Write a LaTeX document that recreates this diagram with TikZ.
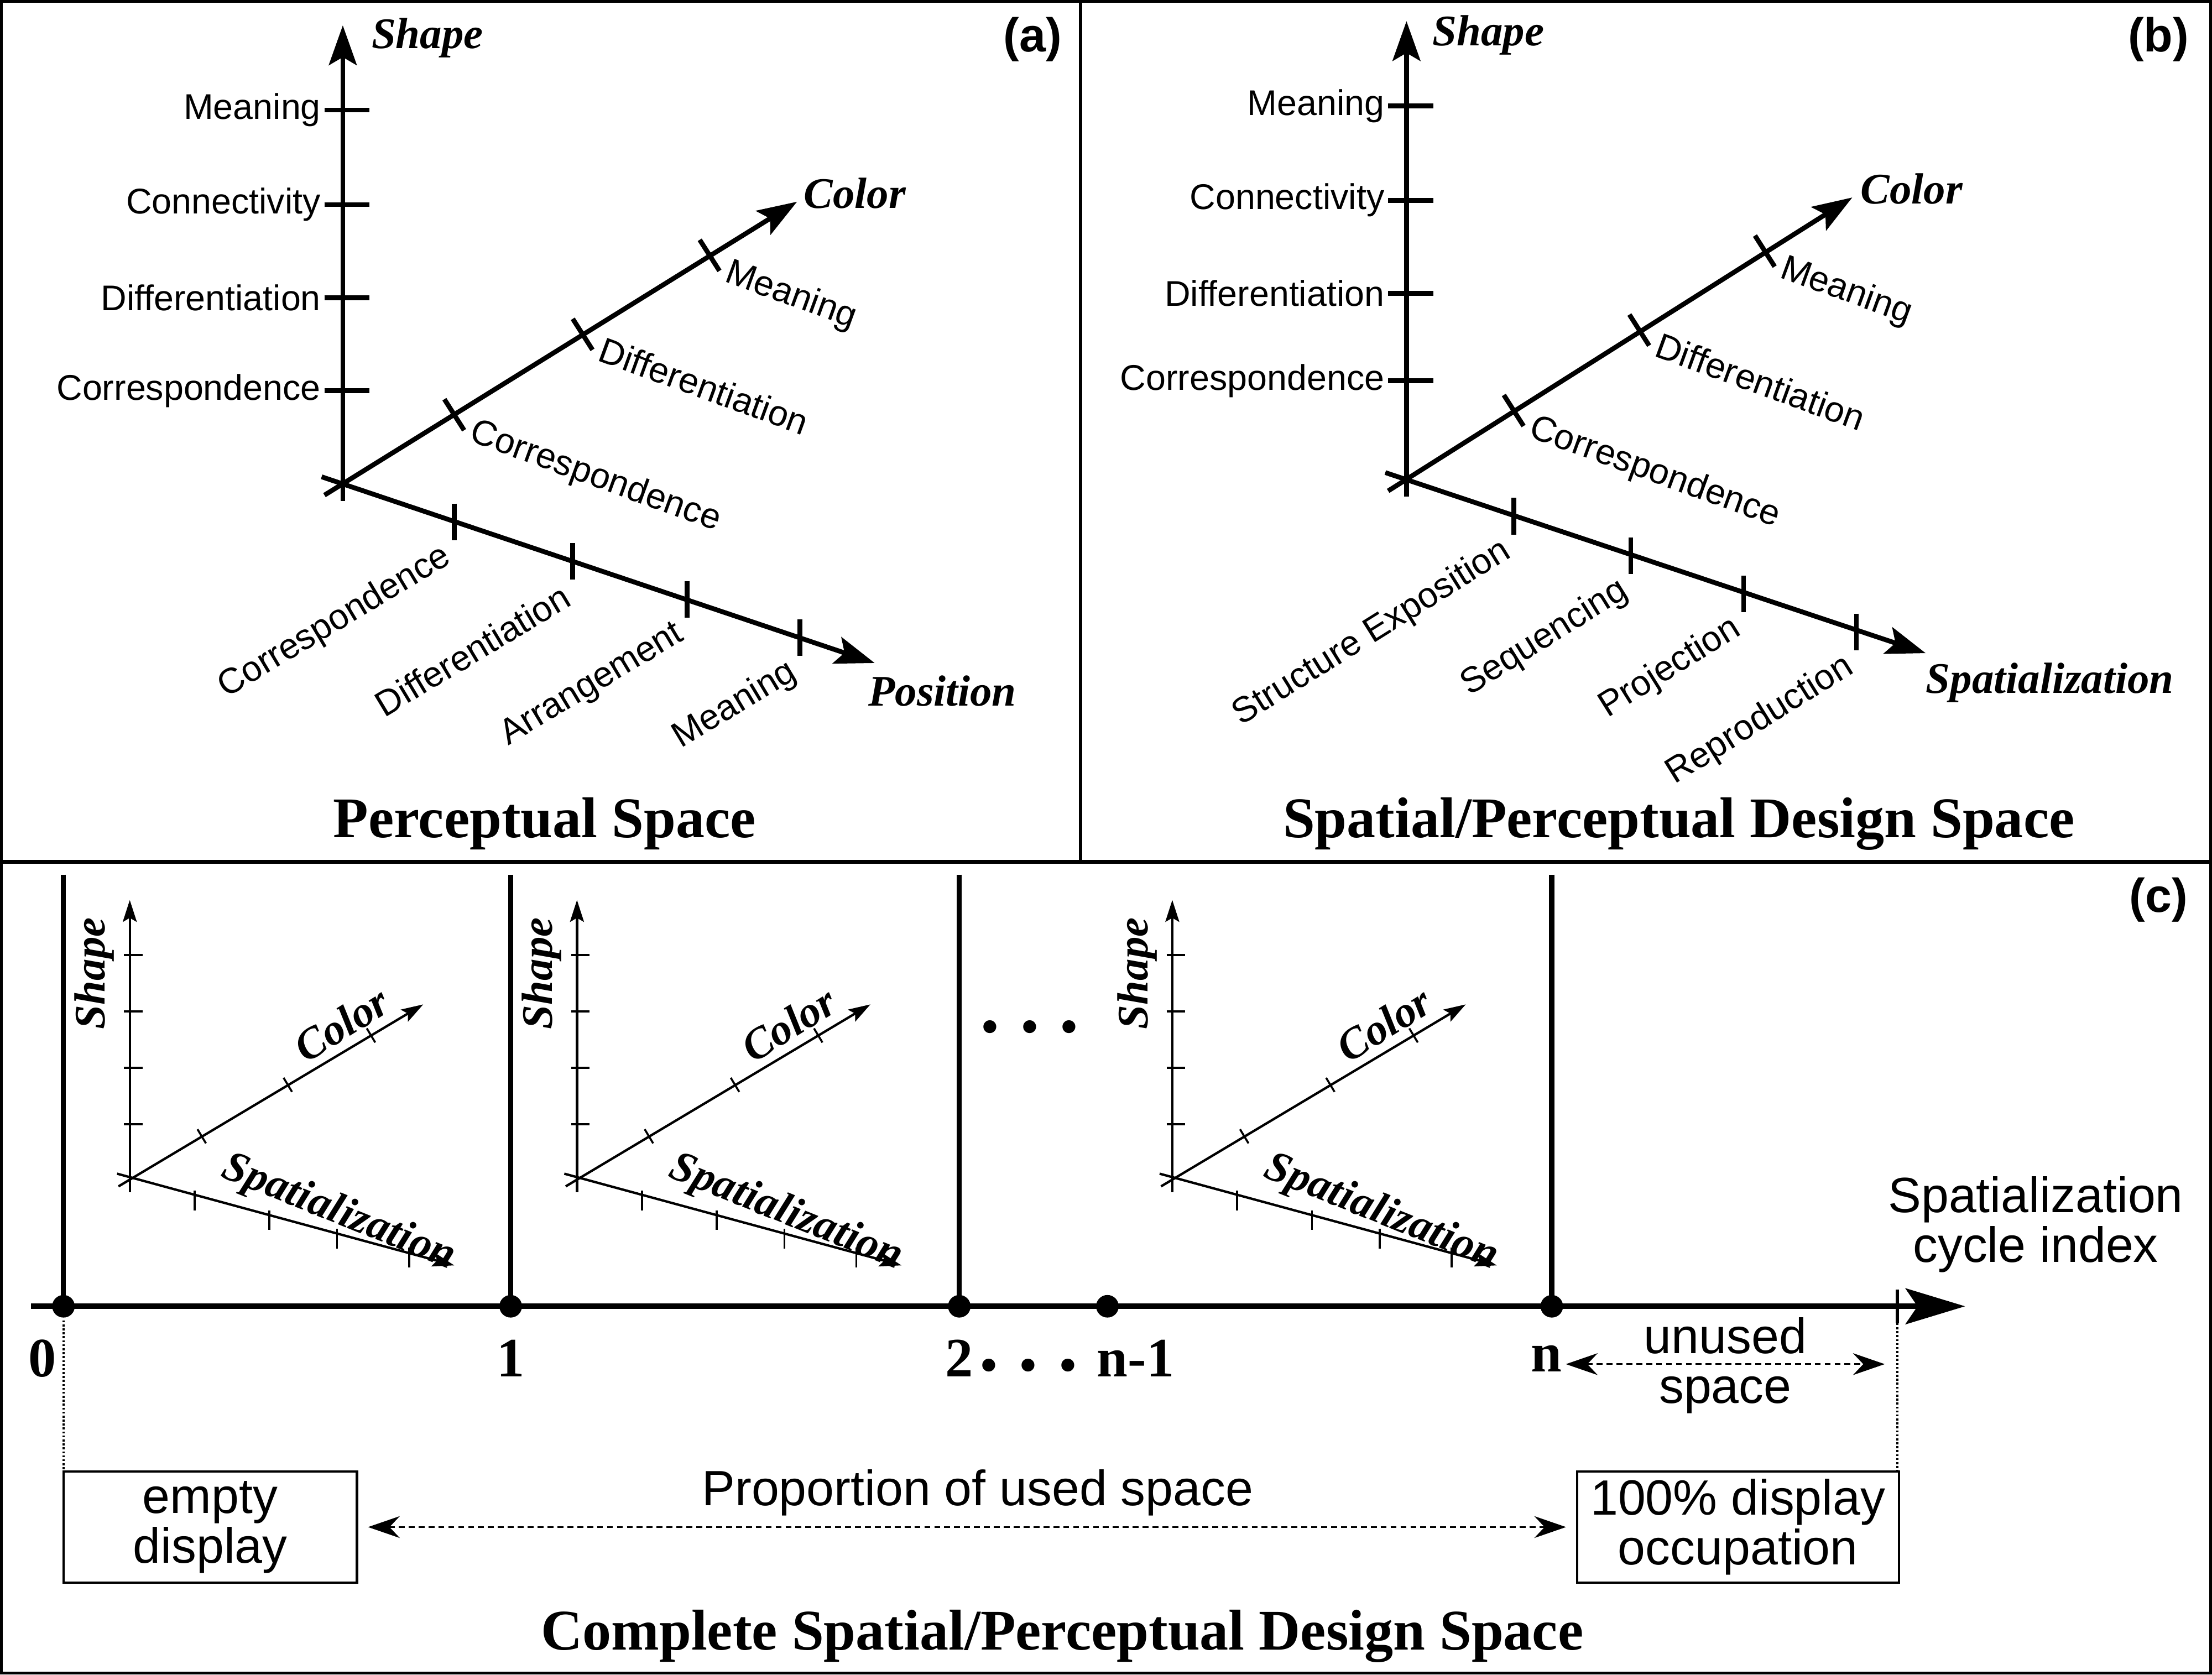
\documentclass[tikz,border=0pt]{standalone}
\usepackage{fontspec}
\setmainfont{Liberation Serif}
\setsansfont{Liberation Sans}
\usetikzlibrary{arrows.meta}
\begin{document}
\begin{tikzpicture}[x=0.025cm,y=-0.025cm,
  bigax/.style={line width=2.4pt,-{Stealth[length=20pt,width=14pt,inset=4pt]}},
  bigtick/.style={line width=2.4pt},
  smax/.style={line width=1.2pt,-{Stealth[length=11pt,width=7pt,inset=2pt]}},
  smtick/.style={line width=1pt},
  lab/.style={font=\sffamily\fontsize{18}{21}\selectfont,inner sep=1pt},
  axlab/.style={font=\bfseries\itshape\fontsize{22}{26}\selectfont,inner sep=0pt},
  ttl/.style={font=\bfseries\fontsize{29}{33}\selectfont,inner sep=0pt},
  tag/.style={font=\sffamily\bfseries\fontsize{24}{28}\selectfont,inner sep=0pt},
  big/.style={font=\sffamily\fontsize{25}{29}\selectfont,inner sep=0pt,align=center},
  num/.style={font=\bfseries\fontsize{28}{32}\selectfont,inner sep=0pt},
  dots/.style={font=\bfseries\fontsize{40}{44}\selectfont,inner sep=0pt},
  smallaxes/.pic={
    \draw[smax] (0,9) -- (0,-198);
    \foreach \y in {-39,-79,-119,-159} \draw[smtick] (-4,\y) -- (9,\y);
    \draw[smax] (-8,5) -- (208,-124);
    \foreach \x/\y in {51/-30.5,112/-67,171/-102} \draw[smtick] (\x-3,\y-5) -- (\x+3,\y+5);
    \draw[smax] (-9,-4) -- (230,61);
    \foreach \x/\y in {46/12,99/26,147/39,198/52.5} \draw[smtick] (\x,\y-4) -- (\x,\y+10);
    \node[axlab,rotate=90] at (-25,-146) {Shape};
    \node[axlab,rotate=32] at (150,-110) {Color};
    \node[axlab,rotate=-22] at (148,24) {Spatialization};
  }]
\useasboundingbox (0,0) rectangle (1568,1187);
\fill[white] (0,0) rectangle (1568,1187);
\draw[line width=1.6pt] (1,1) rectangle (1567,1186);
\draw[line width=1.8pt] (0,611) -- (1568,611);
\draw[line width=1.6pt] (766,0) -- (766,611);

% ---------- panel (a)
\coordinate (Oa) at (243,343);
\draw[bigax] (243,355) -- (243,18);
\foreach \y/\t in {78/Meaning,145/Connectivity,211/Differentiation,277/Correspondence}{
  \draw[bigtick] (230,\y) -- (262,\y);
  \node[lab,anchor=east] at (229,\y) {\t};}
\draw[bigax] (230,351) -- (565,143);
\foreach \x/\y/\t in {322/294/Correspondence,413/237/Differentiation,503/181/Meaning}{
  \draw[bigtick] (\x-7,\y-11) -- (\x+7,\y+11);
  \node[lab,rotate=-20,anchor=north west] at (\x+15,\y-1) {\t};}
\draw[bigax] (228,338) -- (620,470);
\foreach \x/\y/\t in {322/370/Correspondence,406/398/Differentiation,487/425/Arrangement,567/452/Meaning}{
  \draw[bigtick] (\x,\y-13) -- (\x,\y+13);
  \node[lab,rotate=31,anchor=east] at (\x-3,\y+22) {\t};}
\node[axlab] (sa) at (303,27) {Shape};
\node[axlab] (ca) at (606,137) {Color};
\node[axlab] (pa) at (668,490) {Position};
\node[tag] (ta) at (732,28) {(a)};
\node[ttl] (Ta) at (386,584) {Perceptual Space};

% ---------- panel (b)
\begin{scope}[shift={(754,-3)}]
\draw[bigax] (243,355) -- (243,18);
\foreach \y/\t in {78/Meaning,145/Connectivity,211/Differentiation,273/Correspondence}{
  \draw[bigtick] (230,\y) -- (262,\y);
  \node[lab,anchor=east] at (229,\y) {\t};}
\draw[bigax] (230,351) -- (559,143);
\foreach \x/\y/\t in {319/294/Correspondence,408/237/Differentiation,497/181/Meaning}{
  \draw[bigtick] (\x-7,\y-11) -- (\x+7,\y+11);
  \node[lab,rotate=-20,anchor=north west] at (\x+15,\y-1) {\t};}
\draw[bigax] (228,338) -- (611,466);
\foreach \x/\y/\t in {319/369/Structure Exposition,402/397/Sequencing,482/424/Projection,562/451/Reproduction}{
  \draw[bigtick] (\x,\y-13) -- (\x,\y+13);
  \node[lab,rotate=32,anchor=east] at (\x-3,\y+22) {\t};}
\end{scope}
\node[axlab] (sb) at (1055,25) {Shape};
\node[axlab] (cb) at (1355,134) {Color};
\node[axlab] (pb) at (1453,484) {Spatialization};
\node[tag] (tb) at (1530,28) {(b)};
\node[ttl] (Tb) at (1190,584) {Spatial/Perceptual Design Space};

% ---------- panel (c)
\node[tag] (tc) at (1530,638) {(c)};
\foreach \x in {45,362,680,1100} \draw[line width=2.6pt] (\x,620) -- (\x,926);
\pic at (92,836) {smallaxes};
\pic at (409,836) {smallaxes};
\pic at (831,836) {smallaxes};
\node[dots] (dd) at (730,735) {·\,·\,·};
\draw[line width=2.8pt,-{Stealth[length=30pt,width=18pt,inset=6pt]}] (22,926) -- (1393,926);
\foreach \x/\n in {45/d0,362/d1,680/d2,785/d3,1100/d4} \fill (\x,926) circle (8) coordinate (\n);
\draw[line width=1.5pt] (1345,914) -- (1345,938);
\node[num] (n0) at (30,963) {0};
\node[num] (n1) at (362,963) {1};
\node[num] (n2) at (680,963) {2};
\node[dots] (n3) at (729,975) {·\,·\,·};
\node[num] (n4) at (805,963) {n-1};
\node[num] (n5) at (1096,963) {n};
\node[big] (sci) at (1443,868) {Spatialization\\[-4pt]cycle index};
\draw[densely dotted,line width=1pt] (45,936) -- (45,1043);
\draw[densely dotted,line width=1pt] (1345,938) -- (1345,1043);
\node[draw,line width=1.2pt,big,minimum width=5.2cm,minimum height=1.975cm] (b1) at (149,1082.5) {empty\\[-4pt]display};
\node[draw,line width=1.2pt,big,minimum width=5.7cm,minimum height=1.975cm] (b2) at (1232,1082.5) {100\% display\\[-4pt]occupation};
\draw[densely dashed,line width=0.8pt,{Stealth[length=16pt,width=11pt]}-{Stealth[length=16pt,width=11pt]}] ([xshift=5pt]b1.east) -- ([xshift=-5pt]b2.west);
\node[big] (pus) at (693,1058) {Proportion of used space};
\coordinate (u1) at (1110,967);
\coordinate (u2) at (1336,967);
\draw[densely dashed,line width=0.8pt,{Stealth[length=16pt,width=11pt]}-{Stealth[length=16pt,width=11pt]}] (u1) -- (u2);
\node[big] (un) at (1223,968) {unused\\[-4pt]space};
\node[ttl] (Tc) at (753,1160) {Complete Spatial/Perceptual Design Space};
\end{tikzpicture}
\end{document}
